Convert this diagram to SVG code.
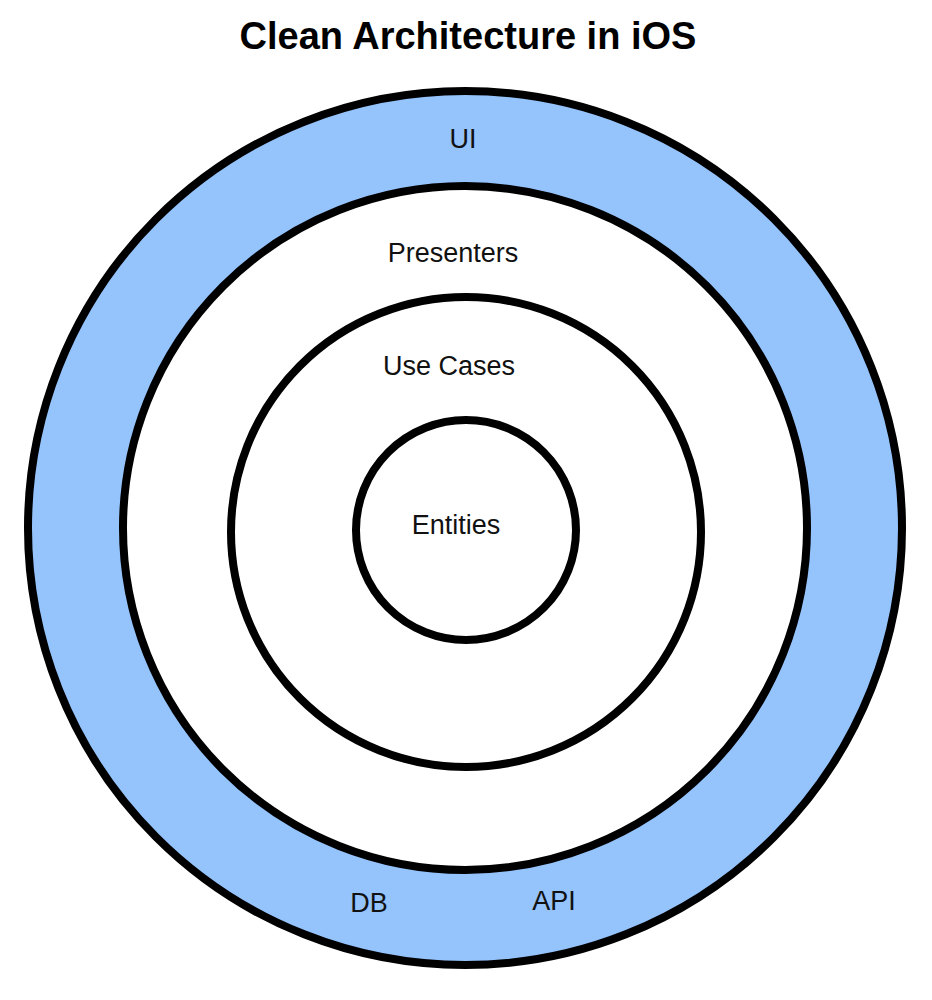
<svg xmlns="http://www.w3.org/2000/svg" width="932" height="1000" viewBox="0 0 932 1000">
<style>
.ring{stroke:#000;stroke-width:8}
.lbl{font-family:"Liberation Sans",Arial,sans-serif;font-size:27px;fill:#111;text-anchor:middle}
</style>
<rect width="932" height="1000" fill="#fff"/>
<text x="468" y="49" style="font-family:'Liberation Sans',Arial,sans-serif;font-size:38px;font-weight:bold;text-anchor:middle">Clean Architecture in iOS</text>
<g id="ui"><circle class="ring" cx="465" cy="528" r="437" fill="#95c3fc"/><text class="lbl" x="463" y="148">UI</text><text class="lbl" x="369" y="912">DB</text><text class="lbl" x="554" y="910">API</text></g>
<g id="presenters"><circle class="ring" cx="465" cy="528" r="342" fill="#fff"/><text class="lbl" x="453" y="262">Presenters</text></g>
<g id="usecases"><circle class="ring" cx="466" cy="532" r="235" fill="#fff"/><text class="lbl" x="449" y="375">Use Cases</text></g>
<g id="entities"><circle class="ring" cx="466" cy="530" r="110" fill="#fff"/><text class="lbl" x="456" y="534">Entities</text></g>
<g id="connectors"/>
</svg>
